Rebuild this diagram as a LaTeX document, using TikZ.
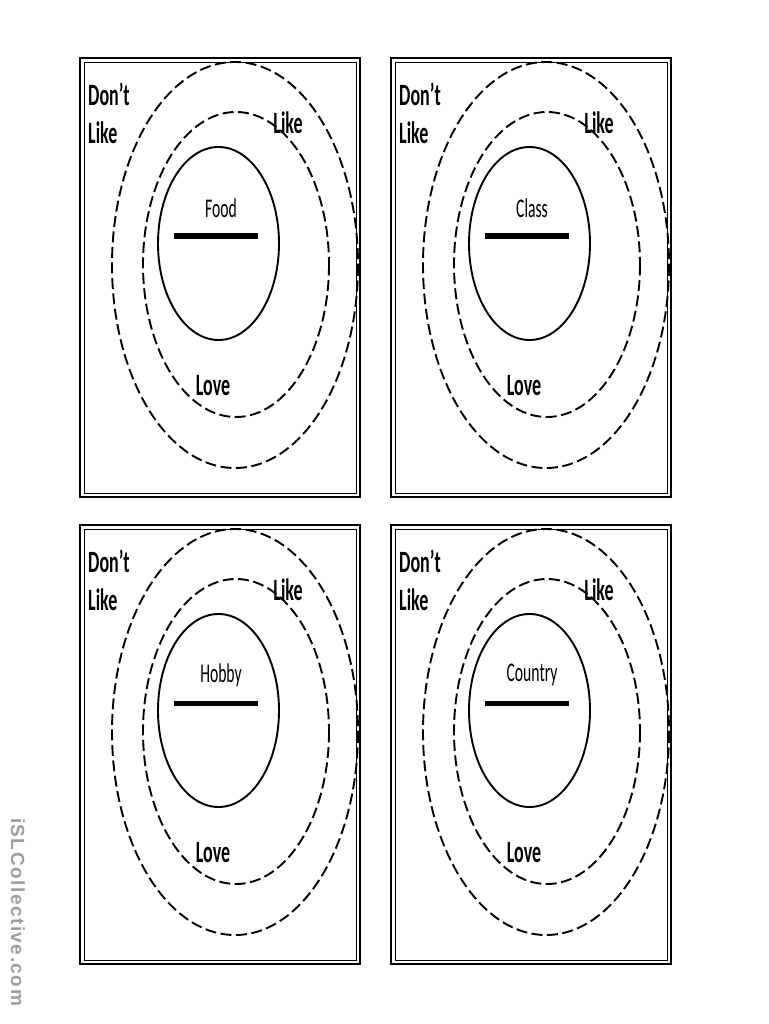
\documentclass[tikz,border=0pt]{standalone}
\usepackage{fontspec}
\setmainfont{Carlito}
\newfontfamily\wmfont{Liberation Sans}
\begin{document}
\begin{tikzpicture}[x=1pt,y=-1pt,
  frameout/.style={line width=2.2pt},
  framein/.style={line width=0.9pt},
  dashring/.style={line width=1.9pt, dash pattern=on 11pt off 4.5pt},
  corering/.style={line width=1.9pt},
  topicbar/.style={line width=5pt},
  biglabel/.style={font=\fontsize{31}{31}\selectfont\bfseries, inner sep=0pt},
  topiclabel/.style={font=\fontsize{27}{27}\selectfont, inner sep=0pt}]
\useasboundingbox (0,0) rectangle (768,1024);
\fill[white] (0,0) rectangle (768,1024);
\foreach \dx/\dy/\topic/\n in {0/0/Food/a, 311/0/Class/b, 0/467/Hobby/c, 311/467/Country/d}{
  \begin{scope}[shift={(\dx,\dy)}]
    \draw[frameout] (80,58) rectangle (360,497);
    \draw[framein] (84,62) rectangle (356,493);
    \draw[dashring] (235,265) ellipse [x radius=123, y radius=203];
    \draw[dashring] (236,264.5) ellipse [x radius=93, y radius=152.5];
    \draw[corering] (218.5,243.5) ellipse [x radius=60.5, y radius=96.5];
    \node[biglabel, anchor=west] (dont\n) at (88,94) {\scalebox{0.58}[1]{Don’t}};
    \node[biglabel, anchor=west] (dlike\n) at (88,133) {\scalebox{0.58}[1]{Like}};
    \node[biglabel] (like\n) at (288,123) {\scalebox{0.58}[1]{Like}};
    \node[biglabel] (love\n) at (213,386) {\scalebox{0.58}[1]{Love}};
    \node[topiclabel] (topic\n) at (221,208) {\scalebox{0.58}[1]{\topic}};
    \coordinate (barl\n) at (174,236);
    \coordinate (barr\n) at (258,236);
    \draw[topicbar] (barl\n) -- (barr\n);
  \end{scope}
}
\node[rotate=-90, text=black!38, font=\wmfont\bfseries\fontsize{19}{19}\selectfont, inner sep=0pt] (wm) at (18,912) {\addfontfeature{LetterSpace=8}iSLCollective.com};
\end{tikzpicture}
\end{document}
